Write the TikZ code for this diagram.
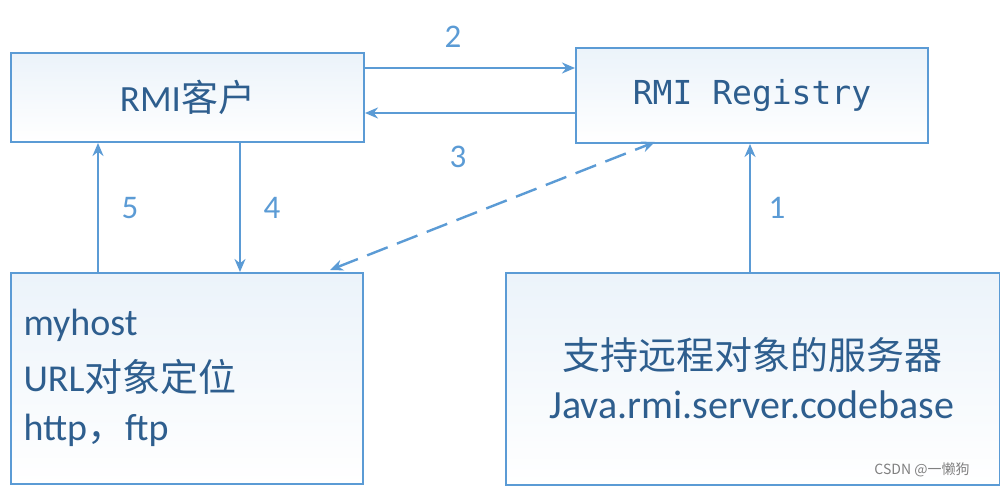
\documentclass[tikz,border=0pt]{standalone}
\usepackage{fontspec}
\setmainfont{Carlito}
\newfontfamily\cjk{Noto Sans CJK SC}
\newfontfamily\mono{DejaVu Sans Mono}
\usetikzlibrary{arrows.meta}
\definecolor{bd}{HTML}{5B9BD5}
\definecolor{tx}{HTML}{2E5E8E}
\begin{document}
\begin{tikzpicture}[x=1pt,y=-1pt,
 box/.style={draw=bd,line width=2pt,inner sep=0,anchor=north west,top color=bd!12,bottom color=white},
 arr/.style={draw=bd,line width=2.4pt,-{Stealth[length=13pt,width=11pt]}},
 lbl/.style={text=bd,font=\fontsize{33}{38}\selectfont},
 big/.style={text=tx,font=\fontsize{38}{44}\selectfont}]
\useasboundingbox (0,0) rectangle (1000,486);
\fill[white] (0,0) rectangle (1000,486);
\node[box,minimum width=353pt,minimum height=89pt] (c) at (10,52) {};
\node[big,font=\fontsize{37}{44}\selectfont] at (c.center) {RMI{\cjk 客户}};
\node[box,minimum width=352pt,minimum height=95pt] (r) at (575,47) {};
\node[text=tx,font=\mono\fontsize{33}{40}\selectfont] at (r.center) {RMI Registry};
\node[box,minimum width=352pt,minimum height=211pt] (h) at (10,272) {};
\node[box,minimum width=494pt,minimum height=212pt] (s) at (505,272) {};
\node[big,anchor=west] (t1) at (20,325) {myhost};
\node[big,anchor=west] (t2) at (20,377) {URL{\cjk 对象定位}};
\node[big,anchor=west] (t3) at (20,430) {http{\cjk ，}ftp};
\node[big,font=\cjk\fontsize{38}{44}\selectfont] (t4) at (752,355) {支持远程对象的服务器};
\node[big,font=\fontsize{40}{46}\selectfont] (t5) at (752,405) {Java.rmi.server.codebase};
\node[text=gray,font=\cjk\fontsize{14}{16}\selectfont] (wm) at (922,470) {CSDN @一懒狗};
\draw[arr] (c.east |- 0,68) -- (r.west |- 0,68);
\draw[arr] (r.west |- 0,113) -- (c.east |- 0,113);
\draw[arr] (h.north -| 98,0) -- (c.south -| 98,0);
\draw[arr] (c.south -| 240,0) -- (h.north -| 240,0);
\draw[arr] (s.north -| 750,0) -- (r.south -| 750,0);
\coordinate (d1) at (330,270); \coordinate (d2) at (655,142);
\draw[arr,{Stealth[length=13pt,width=11pt]}-{Stealth[length=13pt,width=11pt]},dash pattern=on 22pt off 10pt] (d1) -- (d2);
\node[lbl] (l2) at (453,37) {2};
\node[lbl] (l3) at (458,157) {3};
\node[lbl] (l5) at (130,208) {5};
\node[lbl] (l4) at (272,208) {4};
\node[lbl] (l1) at (777,208) {1};
\end{tikzpicture}
\end{document}
